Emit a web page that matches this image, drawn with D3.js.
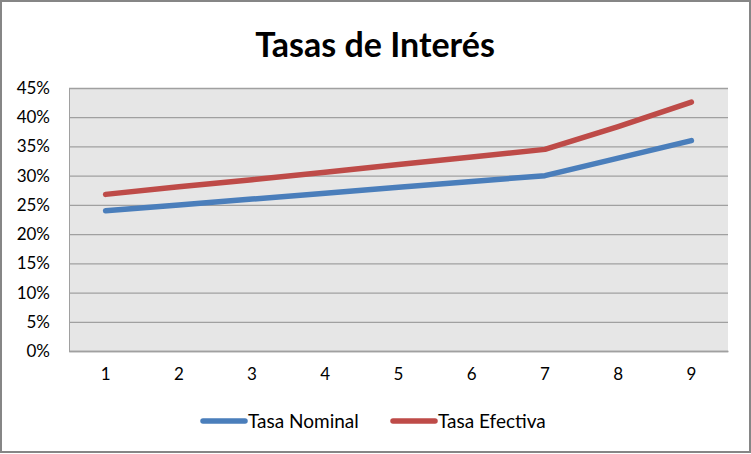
<!DOCTYPE html>
<html>
<head>
<meta charset="utf-8">
<script src="https://cdn.jsdelivr.net/npm/d3@7"></script>
<style>
  body { margin: 0; background: #fff; }
  text { font-family: Lato, "Open Sans", sans-serif; fill: #000; }
</style>
</head>
<body>
<svg id="chart" width="751" height="454"></svg>
<script>
// periods on the x axis
const periods = [1, 2, 3, 4, 5, 6, 7, 8, 9];
// values in %
const tasaNominal = [24.0, 25.0, 26.0, 27.0, 28.0, 29.0, 30.0, 33.0, 36.0];
const tasaEfectiva = [26.8, 28.1, 29.3, 30.6, 31.9, 33.2, 34.5, 38.4, 42.6];
const yTicks = [0, 5, 10, 15, 20, 25, 30, 35, 40, 45];
const seriesNames = ["Tasa Nominal", "Tasa Efectiva"];
const seriesColors = ["#4A7EBB", "#BE4B48"];

let svg = d3.select("#chart");

// outer frame
svg.append("rect")
    .attr("x", 1).attr("y", 1)
    .attr("width", 749).attr("height", 451)
    .attr("fill", "#fff")
    .attr("stroke", "#868686")
    .attr("stroke-width", 2);

let plot = {left: 69, right: 728, top: 88, bottom: 351};

let x = d3.scaleBand()
    .domain(periods)
    .range([plot.left, plot.right]);

let y = d3.scaleLinear()
    .domain([0, 45])
    .range([plot.bottom, plot.top]);

// plot background
svg.append("rect")
    .attr("x", plot.left).attr("y", plot.top)
    .attr("width", plot.right - plot.left)
    .attr("height", plot.bottom - plot.top)
    .attr("fill", "#E6E6E6");

// gridlines + y labels
let yAxis = d3.axisLeft(y)
    .tickValues(yTicks)
    .tickSize(-(plot.right - plot.left))
    .tickPadding(19)
    .tickFormat(d => d + "%");

let gy = svg.append("g")
    .attr("transform", "translate(" + plot.left + ",0)")
    .call(yAxis);
gy.select(".domain").attr("stroke", "#A0A0A0");
gy.selectAll(".tick line").attr("stroke", "#A0A0A0").attr("stroke-width", 1.3);
gy.selectAll(".tick text")
    .style("font-size", "17px")
    .attr("fill", "#000");

// x axis labels
let xAxis = d3.axisBottom(x)
    .tickSize(0)
    .tickPadding(17);

let gx = svg.append("g")
    .attr("transform", "translate(0," + plot.bottom + ")")
    .call(xAxis);
gx.select(".domain").attr("stroke", "#A0A0A0").attr("stroke-width", 1.3);
gx.selectAll(".tick text")
    .style("font-size", "17px")
    .attr("fill", "#000");

// lines
let line = d3.line()
    .x((d, i) => x(periods[i]) + x.bandwidth() / 2)
    .y(d => y(d));

[tasaNominal, tasaEfectiva].forEach(function(vals, i) {
    svg.append("path")
        .datum(vals)
        .attr("d", line)
        .attr("fill", "none")
        .attr("stroke", seriesColors[i])
        .attr("stroke-width", 5.5)
        .attr("stroke-linecap", "round")
        .attr("stroke-linejoin", "round");
});

// title
svg.append("text")
    .attr("x", 375)
    .attr("y", 57)
    .attr("text-anchor", "middle")
    .style("font-size", "34px")
    .style("font-weight", "bold")
    .text("Tasas de Interés");

// legend
let legendX = [203, 393];
seriesNames.forEach(function(name, i) {
    let g = svg.append("g")
        .attr("transform", "translate(" + legendX[i] + ",421)");
    g.append("line")
        .attr("x1", 0).attr("x2", 42)
        .attr("y1", 0).attr("y2", 0)
        .attr("stroke", seriesColors[i])
        .attr("stroke-width", 5.5)
        .attr("stroke-linecap", "round");
    g.append("text")
        .attr("x", 45)
        .attr("y", 7)
        .style("font-size", "19px")
        .text(name);
});
</script>
</body>
</html>
